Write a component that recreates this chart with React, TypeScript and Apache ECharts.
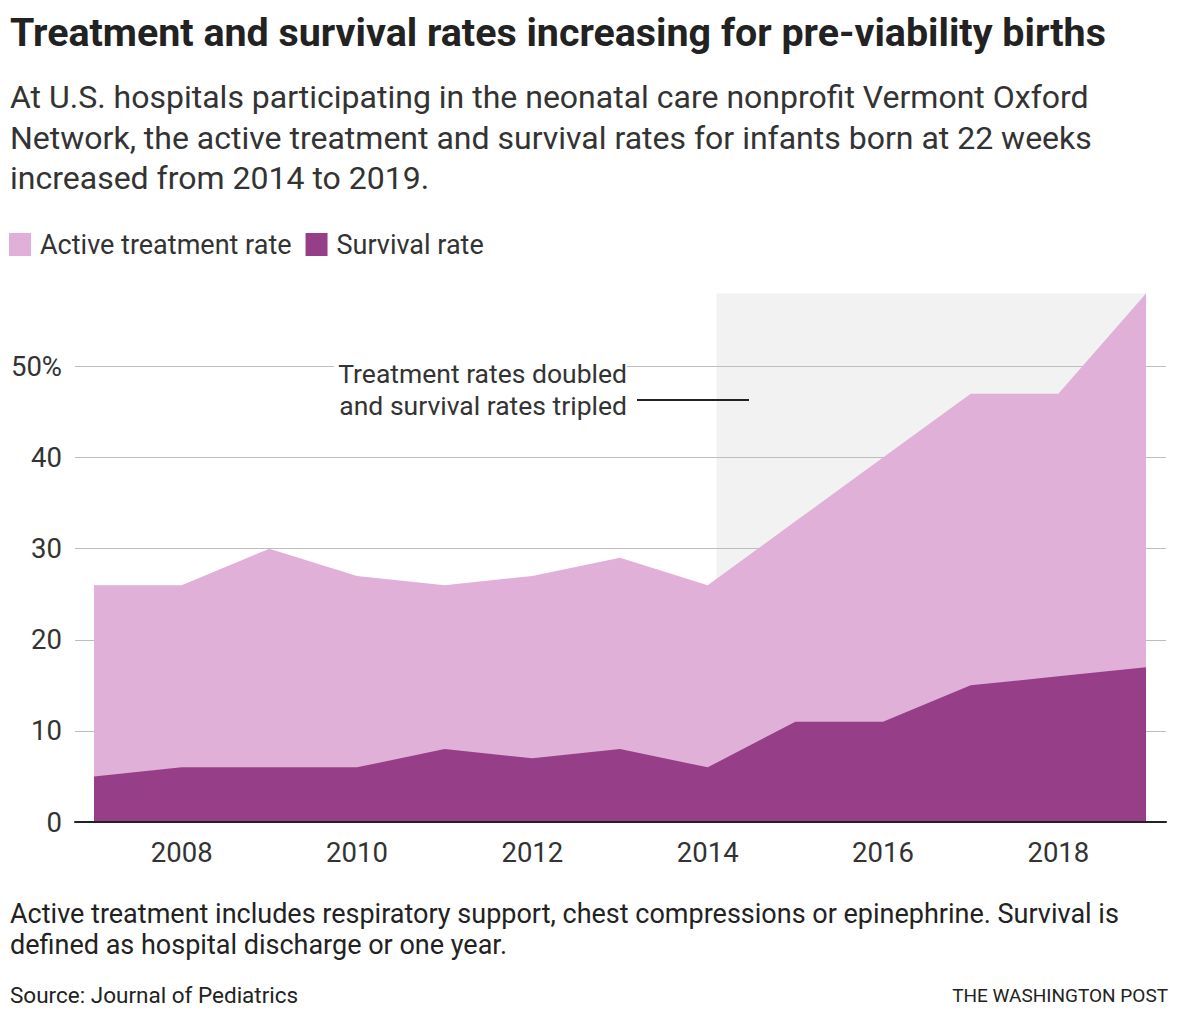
import React, { useEffect, useRef } from "react";
import * as echarts from "echarts";

const years = [2007, 2008, 2009, 2010, 2011, 2012, 2013, 2014, 2015, 2016, 2017, 2018, 2019];
const treatmentRate = [26, 26, 30, 27, 26, 27, 29, 26, 33, 40, 47, 47, 58];
const survivalRate = [5, 6, 6, 6, 8, 7, 8, 6, 11, 11, 15, 16, 17];
const xTickYears = [2008, 2010, 2012, 2014, 2016, 2018];
const yTicks = [0, 10, 20, 30, 40, 50];
const shadeRange = [2014.1, 58, 2019]; // start year, top value, end year

const titleText = "Treatment and survival rates increasing for pre-viability births";
const subtitleLines = [
  "At U.S. hospitals participating in the neonatal care nonprofit Vermont Oxford",
  "Network, the active treatment and survival rates for infants born at 22 weeks",
  "increased from 2014 to 2019.",
];
const annotationLines = ["Treatment rates doubled", "and survival rates tripled"];
const noteLines = [
  "Active treatment includes respiratory support, chest compressions or epinephrine. Survival is",
  "defined as hospital discharge or one year.",
];
const sourceText = "Source: Journal of Pediatrics";
const creditText = "THE WASHINGTON POST";

const FONT = "Roboto, 'Noto Sans', sans-serif";
const LIGHT = "#e0b0d8";
const DARK = "#963f88";

export default function App() {
  const ref = useRef<HTMLDivElement>(null);
  useEffect(() => {
    document.body.style.margin = "0";
    const chart = echarts.init(ref.current!, null, { renderer: "svg" });
    const option: any = {
      animation: false,
      backgroundColor: "#fff",
      textStyle: { fontFamily: FONT },
      legend: {
        left: 9,
        top: 231,
        padding: 0,
        icon: "rect",
        itemWidth: 22,
        itemHeight: 23,
        itemGap: 14,
        data: ["Active treatment rate", "Survival rate"],
        textStyle: { fontSize: 27, color: "#333", fontFamily: FONT, padding: [0, 0, 0, 4] },
        selectedMode: false,
      },
      grid: { left: 75, right: 14, top: 275.4, bottom: 198, containLabel: false },
      xAxis: {
        type: "value",
        min: 2006.783,
        max: 2019.228,
        z: 5,
        axisLine: { show: true, lineStyle: { color: "#222", width: 2 } },
        axisTick: { show: false },
        splitLine: { show: false },
        axisLabel: {
          customValues: xTickYears,
          formatter: (v: number) => String(v),
          fontSize: 27.5,
          color: "#333",
          margin: 16,
          fontFamily: FONT,
        },
      },
      yAxis: {
        type: "value",
        min: 0,
        max: 60,
        interval: 10,
        axisLine: { show: false },
        axisTick: { show: false, customValues: yTicks },
        splitLine: { show: true, customValues: yTicks, lineStyle: { color: "#bdbdbd", width: 1 } },
        axisLabel: {
          customValues: yTicks,
          formatter: (v: number) => (v === 50 ? "50%" : String(v)),
          fontSize: 27.5,
          color: "#333",
          margin: 13,
          fontFamily: FONT,
        },
      },
      series: [
        {
          type: "custom",
          name: "shade",
          z: -1,
          silent: true,
          data: [shadeRange],
          renderItem: (params: any, api: any) => {
            const p0 = api.coord([api.value(0), api.value(1)]);
            const p1 = api.coord([api.value(2), 0]);
            return {
              type: "rect",
              shape: { x: p0[0], y: p0[1], width: p1[0] - p0[0], height: p1[1] - p0[1] },
              style: { fill: "#f2f2f2" },
            };
          },
        },
        {
          type: "line",
          name: "Active treatment rate",
          data: years.map((y, i) => [y, treatmentRate[i]]),
          symbol: "none",
          lineStyle: { width: 0 },
          itemStyle: { color: LIGHT },
          areaStyle: { color: LIGHT, opacity: 1 },
          z: 2,
        },
        {
          type: "line",
          name: "Survival rate",
          data: years.map((y, i) => [y, survivalRate[i]]),
          symbol: "none",
          lineStyle: { width: 0 },
          itemStyle: { color: DARK },
          areaStyle: { color: DARK, opacity: 1 },
          z: 3,
        },
      ],
      graphic: [
        {
          type: "text",
          left: 10,
          top: 13,
          style: { text: titleText, font: `bold 39.4px ${FONT}`, fill: "#222" },
        },
        ...subtitleLines.map((t, i) => ({
          type: "text",
          left: 10,
          top: 81 + i * 40.5,
          style: { text: t, font: `32px ${FONT}`, fill: "#333" },
        })),
        ...annotationLines.map((t, i) => ({
          type: "text",
          z: 10,
          x: 627,
          y: 373 + i * 32,
          style: {
            text: t,
            font: `26.5px ${FONT}`,
            fill: "#333",
            align: "right",
            verticalAlign: "middle",
            backgroundColor: i === 0 ? "#fff" : undefined,
            padding: i === 0 ? [0, 0, 0, 4] : undefined,
          },
        })),
        {
          type: "line",
          z: 10,
          shape: { x1: 637, y1: 400, x2: 749, y2: 400 },
          style: { stroke: "#222", lineWidth: 2 },
        },
        ...noteLines.map((t, i) => ({
          type: "text",
          left: 10,
          top: 900 + i * 31,
          style: { text: t, font: `27px ${FONT}`, fill: "#222" },
        })),
        {
          type: "text",
          left: 10,
          top: 983,
          style: { text: sourceText, font: `22.5px ${FONT}`, fill: "#222" },
        },
        {
          type: "text",
          right: 12,
          top: 986,
          style: { text: creditText, font: `19px ${FONT}`, fill: "#222" },
        },
      ],
    };
    chart.setOption(option);
    return () => chart.dispose();
  }, []);
  return <div ref={ref} style={{ width: 1180, height: 1020 }} />;
}
